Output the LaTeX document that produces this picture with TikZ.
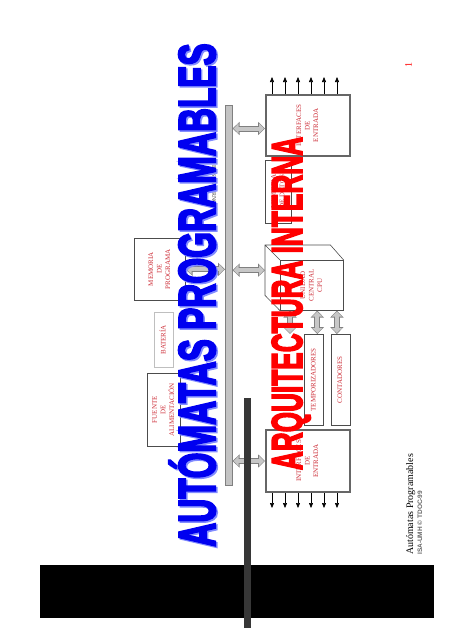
\documentclass[tikz,border=0pt]{standalone}
\usepackage{fontspec}
\setmainfont{Liberation Serif}
\setsansfont{Liberation Sans}
\newfontfamily\heavyfont{Liberation Sans}[BoldFeatures={FakeBold=4}]
\usetikzlibrary{arrows.meta,positioning}
\definecolor{boxred}{RGB}{205,45,55}
\definecolor{titleblue}{RGB}{0,0,240}
\definecolor{glowblue}{RGB}{130,140,255}
\definecolor{busgray}{RGB}{195,195,195}
\definecolor{posgray}{RGB}{55,55,55}
\newcommand{\vtext}[1]{\rotatebox{90}{\begin{tabular}{@{}c@{}}#1\end{tabular}}}
\newcommand{\bigtitle}[3]{\scalebox{#1}[1]{\fontsize{#2}{#2}\selectfont\heavyfont\bfseries #3}}
\begin{document}
\begin{tikzpicture}[x=1pt,y=-1pt,
    block/.style={draw=black!70, line width=0.6pt, fill=white, anchor=north west, inner sep=0pt, text=boxred},
    io block/.style={block, draw=black!60, line width=2pt},
    bus arrow/.style={draw=black!50, line width=6pt, {Triangle[width=13pt,length=7pt]}-{Triangle[width=13pt,length=7pt]},
      postaction={draw=black!22, line width=4pt, {Triangle[width=10pt,length=5pt]}-{Triangle[width=10pt,length=5pt]}, shorten <=1pt, shorten >=1pt}},
    io arrow/.style={-{Triangle[width=4pt,length=5pt]}, line width=0.6pt}]
  \tikzstyle{every node}=[font=\fontsize{7}{8.5}\selectfont]
  \useasboundingbox (0,0) rectangle (474,632);
  \fill[black] (40,565) rectangle (434,618);

  \node[block, minimum width=51pt, minimum height=62pt] (memprog) at (134,238) {\vtext{MEMORIA\\DE\\PROGRAMA}};
  \node[block, draw=black!25, minimum width=19pt, minimum height=55pt] (bateria) at (154,312) {\vtext{BATERÍA}};
  \node[block, minimum width=33pt, minimum height=73pt] (fuente) at (147,373) {\vtext{FUENTE\\DE\\ALIMENTACIÓN}};
  \node[block, fill=busgray, draw=black!50, minimum width=7pt, minimum height=380pt] (bus) at (225,105) {};
  \node[rotate=-90, text=black!70, font=\fontsize{6}{7}\selectfont] (busname) at (214,185) {BUS INTERNO};

  \node[io block, minimum width=84pt, minimum height=61pt] (ifaceup) at (265,94) {\vtext{INTERFACES\\DE\\ENTRADA}};
  \node[block, minimum width=26pt, minimum height=63pt] (memdat) at (265,160) {\vtext{MEMORIA\\DE DATOS}};
  \node[anchor=north west, inner sep=0pt, minimum width=65pt, minimum height=50pt] (cpuback) at (265,245) {};
  \node[block, minimum width=63pt, minimum height=50pt] (cpu) at (280,260) {\vtext{UNIDAD\\CENTRAL\\CPU}};
  \draw[black!70, line width=0.6pt] (cpu.south west) -- (cpuback.south west) -- (cpuback.north west)
    -- (cpuback.north east) -- (cpu.north east) (cpuback.north west) -- (cpu.north west);
  \node[block, minimum width=19pt, minimum height=91pt] (temp) at (304,334) {\vtext{TEMPORIZADORES}};
  \node[block, minimum width=19pt, minimum height=91pt, right=7pt of temp] (cont) {\vtext{CONTADORES}};
  \node[io block, minimum width=84pt, minimum height=62pt] (ifacedown) at (265,429) {\vtext{INTERFACES\\DE\\ENTRADA}};

  \coordinate (tempin) at ([xshift=3.5pt]temp.north);
  \coordinate (contin) at ([xshift=-3.5pt]cont.north);
  \coordinate (relin) at (290,334);
  \draw[bus arrow] ([yshift=-3pt]bus.east |- ifaceup.west) -- ([yshift=-3pt]ifaceup.west);
  \draw[bus arrow] (bus.east |- cpuback.west) -- (cpuback.west);
  \draw[bus arrow] (bus.east |- ifacedown.west) -- (ifacedown.west);
  \draw[bus arrow] (memprog.east) -- (bus.west |- memprog.east);
  \draw[bus arrow] (cpu.south -| tempin) -- (tempin);
  \draw[bus arrow] (cpu.south -| contin) -- (contin);
  \draw[bus arrow] (cpu.south -| relin) -- (relin);
  \foreach \i in {0,...,5} {
    \draw[io arrow] (ifaceup.north west) ++(7+13*\i,0) -- ++(0,-17);
    \draw[io arrow] (ifacedown.south west) ++(7+13*\i,0) -- ++(0,15);
  }
  \fill[posgray] (244,398) rectangle (251,628);

  \node[rotate=90, anchor=base, text=glowblue] (titleglow) at (216.5,296.5) {\bigtitle{0.64}{52}{AUTÓMATAS PROGRAMABLES}};
  \node[rotate=90, anchor=base, text=titleblue] (title) at (215,295) {\bigtitle{0.64}{52}{AUTÓMATAS PROGRAMABLES}};
  \node[rotate=90, anchor=base, text=red] (subtitle) at (302,303.5) {\bigtitle{0.605}{43.3}{ARQUITECTURA INTERNA}};

  \node[rotate=90, anchor=base west, inner sep=0pt, font=\fontsize{10}{12}\selectfont] (footer) at (413,555) {Autómatas Programables};
  \node[rotate=90, anchor=base west, inner sep=0pt, text=black!60, font=\fontsize{6.5}{8}\selectfont\sffamily\bfseries] (credits) at (422,555) {ISA-UMH © TDOC-99};
  \node[rotate=90, text=red, font=\fontsize{10}{12}\selectfont] (pagenum) at (408.5,65) {1};
\end{tikzpicture}
\end{document}
